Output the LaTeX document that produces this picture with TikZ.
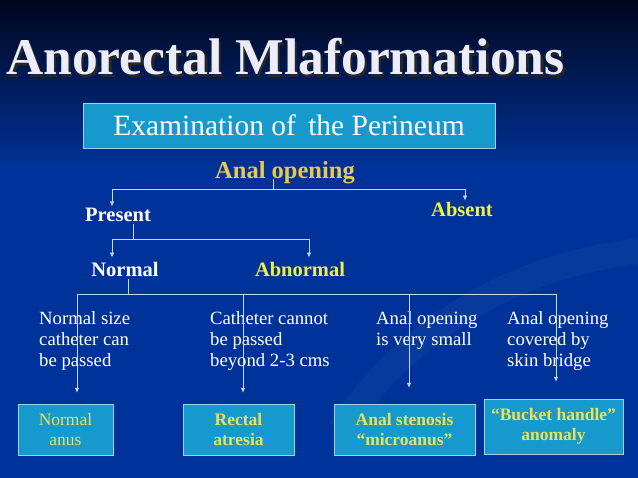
\documentclass[tikz,border=0pt]{standalone}
\usepackage{fontspec}
\setmainfont{Liberation Serif}
\usetikzlibrary{
    arrows.meta,
    calc,
    positioning
}
\definecolor{bgblue}{RGB}{0,51,153}
\definecolor{bgdark}{RGB}{0,6,30}
\definecolor{boxcyan}{RGB}{22,154,206}
\definecolor{boxline}{RGB}{160,210,240}
\definecolor{linkblue}{RGB}{196,216,248}
\definecolor{gold}{RGB}{234,200,76}
\definecolor{lemon}{RGB}{240,240,70}
\definecolor{boxtext}{RGB}{232,226,86}
\definecolor{titlewhite}{RGB}{236,236,250}

\begin{document}
\begin{tikzpicture}[x=1pt, y=-1pt,
    title/.style={font=\bfseries\fontsize{51.5}{51.5}\selectfont, anchor=base west, inner sep=0pt},
    headbox/.style={draw=boxline, fill=boxcyan, text=white, minimum width=412pt, minimum height=45pt,
        font=\fontsize{29.5}{29.5}\selectfont},
    branch/.style={font=\bfseries\fontsize{20.5}{20.5}\selectfont, anchor=base, inner sep=2pt},
    note/.style={align=left, text=white, anchor=north west, inner sep=0pt,
        font=\fontsize{18.7}{21}\selectfont},
    result/.style={draw=boxline, fill=boxcyan, text=boxtext, align=center, minimum height=51pt,
        font=\bfseries\fontsize{17.5}{20.5}\selectfont},
    link/.style={draw=linkblue, line width=0.8pt},
    >={Latex[length=5pt,width=4.5pt]}]
    \useasboundingbox (0,0) rectangle (638,478);
    \fill[bgblue] (0,0) rectangle (638,478);
    \shade[top color=bgdark, bottom color=bgblue] (0,0) rectangle (638,170);
    \draw[white, opacity=0.03, line width=26pt] (340,430) .. controls (420,310) and (540,260) .. (650,250);

    \node[title, text=black!85] (titleshade) at (8.5,77.5) {Anorectal Mlaformations};
    \node[title, text=titlewhite] (title) at (6,75) {Anorectal Mlaformations};
    \node[headbox] (exam) at (289,125.5) {Examination of\, the Perineum};

    \node[branch, text=gold, font=\bfseries\fontsize{24.5}{24.5}\selectfont] (ao) at (285,179) {Anal opening};
    \node[branch, text=white] (pres) at (118,222) {Present};
    \node[branch, text=lemon] (abs) at (462,217) {Absent};
    \node[branch, text=white] (norm) at (125,277) {Normal};
    \node[branch, text=lemon] (abn) at (300,277) {Abnormal};

    \node[note] (n1) at (39,311) {Normal size\\catheter can\\be passed};
    \node[note] (n2) at (210,311) {Catheter cannot\\be passed\\beyond 2-3 cms};
    \node[note] (n3) at (376,311) {Anal opening\\is very small};
    \node[note] (n4) at (507,311) {Anal opening\\covered by\\skin bridge};

    \node[result, minimum width=95pt, font=\fontsize{17.5}{20.5}\selectfont] (nanus) at (65.5,429.5) {Normal\\anus};
    \node[result, minimum width=111pt] (ratr) at (238.5,429.5) {Rectal\\atresia};
    \node[result, minimum width=141pt] (sten) at (404.5,429.5) {Anal stenosis\\``microanus''};
    \node[result, minimum width=139pt, minimum height=55pt] (buck) at (553.5,426.5) {``Bucket handle''\\anomaly};

    \coordinate (aoj) at (273,189);
    \coordinate (prj) at (133,239);
    \coordinate (noj) at (128,294);
    \coordinate (b1) at (77,294);
    \coordinate (b2) at (243,294);
    \coordinate (b3) at (409,294);
    \coordinate (b4) at (556,294);

    \draw[link] (ao.base -| aoj) -- (aoj);
    \draw[link,->] (aoj) -| ([xshift=-6pt]pres.north);
    \draw[link,->] (aoj) -| ([xshift=3pt]abs.north);
    \draw[link] (pres.south -| prj) -- (prj);
    \draw[link,->,shorten >=3pt] (prj) -| ([xshift=-13pt]norm.north);
    \draw[link,->,shorten >=3pt] (prj) -| ([xshift=9pt]abn.north);
    \draw[link] (norm.south -| noj) -- (noj);
    \draw[link] (b1) -- (b4);
    \draw[link,->,shorten >=11pt] (b1) -- (b1 |- nanus.north);
    \draw[link,->,shorten >=11pt] (b2) -- (b2 |- ratr.north);
    \draw[link,->,shorten >=16pt] (b3) -- (b3 |- sten.north);
    \draw[link,->,shorten >=17pt] (b4) -- (b4 |- buck.north);
\end{tikzpicture}
\end{document}
